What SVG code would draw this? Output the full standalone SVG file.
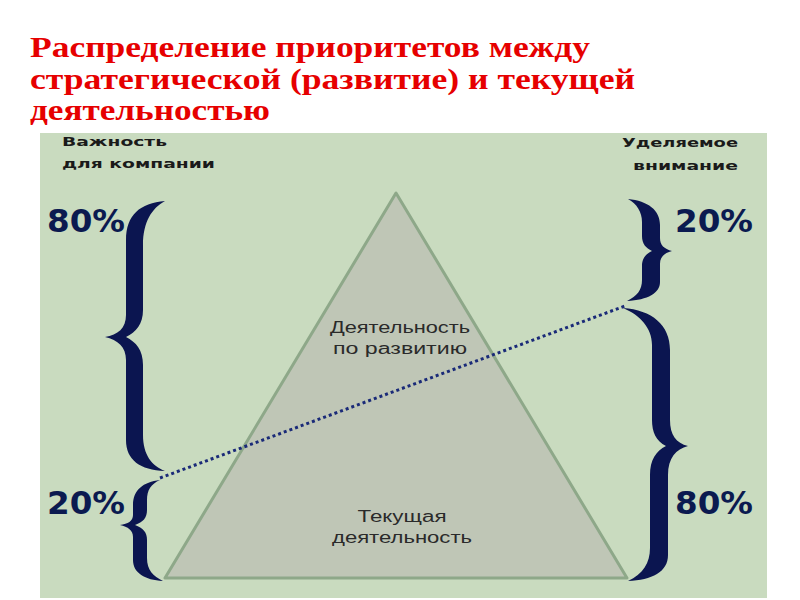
<svg xmlns="http://www.w3.org/2000/svg" width="800" height="600" viewBox="0 0 800 600">
<style>
.title{font-family:"Liberation Serif","Times New Roman",serif;font-weight:bold;font-size:29px;fill:#e60000}
.pct{font-family:"DejaVu Sans","Liberation Sans",Arial,sans-serif;font-weight:bold;font-size:32px;fill:#0b1a50}
.hdr{font-family:"DejaVu Sans","Liberation Sans",Arial,sans-serif;font-weight:bold;font-size:12px;fill:#1a1a1a}
.lbl{font-family:"Liberation Sans",Arial,sans-serif;font-size:16px;fill:#2a2a2a;text-anchor:middle}
.brace{fill:#0b1550}
</style>
<rect x="0" y="0" width="800" height="600" fill="#ffffff"/>
<g id="title">
<text class="title" x="30" y="57" textLength="560" lengthAdjust="spacingAndGlyphs">Распределение приоритетов между</text>
<text class="title" x="30" y="89" textLength="605" lengthAdjust="spacingAndGlyphs">стратегической (развитие) и текущей</text>
<text class="title" x="30" y="120" textLength="240" lengthAdjust="spacingAndGlyphs">деятельностью</text>
</g>
<rect id="panel" x="40" y="133" width="727" height="465" fill="#c9dbbf"/>
<g id="pyramid">
<polygon points="396,193 165,578 627,578" fill="#bfc6b6" stroke="#8ea889" stroke-width="3" stroke-linejoin="round"/>
<text class="lbl" x="400" y="333" textLength="140" lengthAdjust="spacingAndGlyphs">Деятельность</text>
<text class="lbl" x="400" y="354" textLength="134" lengthAdjust="spacingAndGlyphs">по развитию</text>
<text class="lbl" x="402" y="522" textLength="89" lengthAdjust="spacingAndGlyphs">Текущая</text>
<text class="lbl" x="402" y="543" textLength="140" lengthAdjust="spacingAndGlyphs">деятельность</text>
</g>
<g id="left-axis">
<text class="hdr" x="62" y="146" textLength="105" lengthAdjust="spacingAndGlyphs">Важность</text>
<text class="hdr" x="62" y="168" textLength="153" lengthAdjust="spacingAndGlyphs">для компании</text>
<text class="pct" x="47" y="232" textLength="78" lengthAdjust="spacingAndGlyphs">80%</text>
<text class="pct" x="47" y="514" textLength="78" lengthAdjust="spacingAndGlyphs">20%</text>
<path class="brace" d="M165,201 C140,203 126,215 126,240 L126,315 C126,328 118,335 105,337 C118,340 126,347 126,360 L126,440 C126,460 140,470 165,471 C152,466 143,455 143,435 L143,365 C143,350 136,342 126,337 C136,332 143,324 143,310 L143,245 C143,222 152,208 165,201 Z"/>
<path class="brace" d="M160,480 C143,482 133,490 133,505 L133,515 C133,521 128,524 120,525 C128,527 133,530 133,537 L133,560 C133,573 145,580 163,581 C153,576 147,570 147,558 L147,540 C147,532 143,528 135,525 C143,522 147,518 147,510 L147,500 C147,490 151,484 160,480 Z"/>
</g>
<g id="right-axis">
<text class="hdr" x="738" y="147" text-anchor="end" textLength="116" lengthAdjust="spacingAndGlyphs">Уделяемое</text>
<text class="hdr" x="738" y="170" text-anchor="end" textLength="105" lengthAdjust="spacingAndGlyphs">внимание</text>
<text class="pct" x="675" y="232" textLength="78" lengthAdjust="spacingAndGlyphs">20%</text>
<text class="pct" x="675" y="514" textLength="78" lengthAdjust="spacingAndGlyphs">80%</text>
<path class="brace" d="M628,199 C648,201 660,210 660,225 L660,238 C660,245 664,249 672,251 C664,253 660,257 660,264 L660,282 C660,293 648,300 627,301 C637,296 642,290 642,280 L642,266 C642,258 646,254 652,251 C646,248 642,244 642,236 L642,222 C642,212 637,204 628,199 Z"/>
<path class="brace" d="M623,308 C652,310 670,325 670,350 L670,420 C670,435 676,443 688,446 C676,449 668,458 668,475 L668,555 C668,572 652,580 628,581 C643,574 650,563 650,548 L650,475 C650,460 656,451 666,446 C656,441 652,432 652,420 L652,345 C652,328 640,315 623,308 Z"/>
</g>
<g id="connectors">
<line x1="160" y1="478" x2="625" y2="306" stroke="#1a2a78" stroke-width="3" stroke-dasharray="3,3"/>
</g>
</svg>
